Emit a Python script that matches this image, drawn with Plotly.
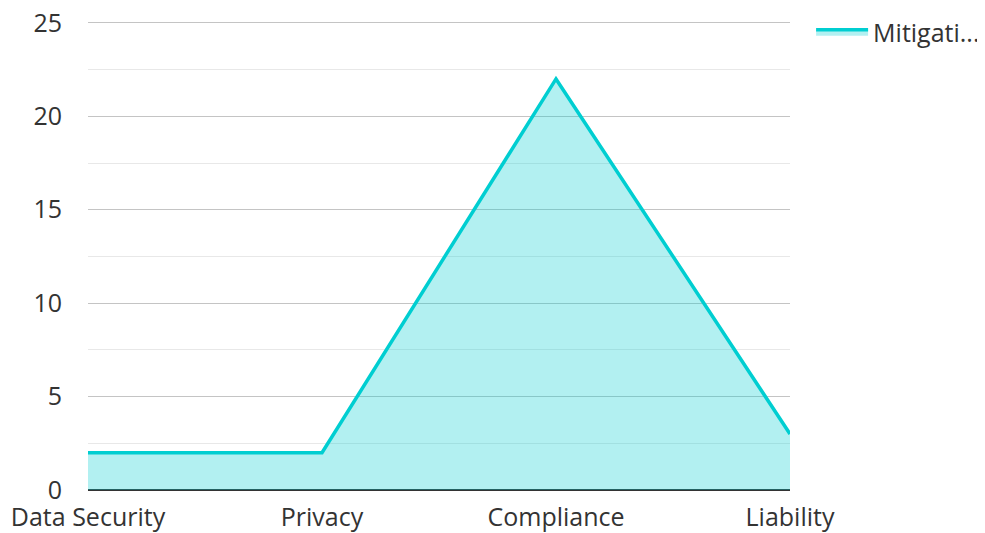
import plotly.graph_objects as go

categories = ["Data Security", "Privacy", "Compliance", "Liability"]
values = [2, 2, 22, 3]
series_name = "Mitigati..."
y_ticks = [0, 5, 10, 15, 20, 25]

fig = go.Figure()
fig.add_trace(go.Scatter(
    x=categories, y=values, name=series_name, mode="lines",
    fill="tozeroy", line=dict(color="#00CED1", width=3.5),
    fillcolor="rgba(0,206,209,0.3)",
))

# the page body adds an 8px margin, so the figure is 8px smaller and shifted
fig.update_layout(
    width=977, height=525,
    margin=dict(l=80, r=195, t=13, b=43),
    paper_bgcolor="white", plot_bgcolor="white",
    font=dict(family="Open Sans", size=25, color="#333333"),
    showlegend=True,
    legend=dict(xref="container", yref="container", x=0.822, y=0.998,
                xanchor="left", yanchor="top",
                font=dict(size=25, color="#333333"), itemwidth=52),
    xaxis=dict(type="category", range=[0, 3], showgrid=False, zeroline=False,
               showline=False, ticks="", ticklabelstandoff=10, automargin=False,
               ticklabeloverflow="allow"),
    yaxis=dict(range=[0, 25.1], tickvals=y_ticks, showgrid=True, gridcolor="#c4c4c4",
               gridwidth=1, zeroline=True, zerolinecolor="#333333", zerolinewidth=2,
               ticks="", ticklabelstandoff=25, automargin=False,
               ticklabeloverflow="allow",
               minor=dict(dtick=2.5, showgrid=True, gridcolor="#e8e8e8", gridwidth=1)),
)

fig.write_html("out.html")
